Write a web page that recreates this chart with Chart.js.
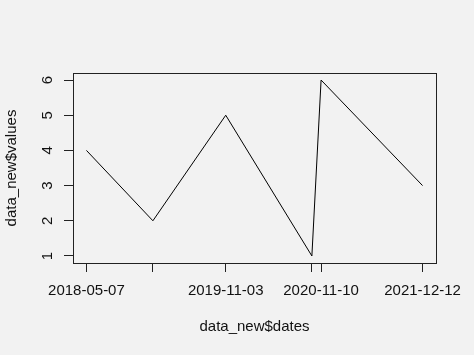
<!DOCTYPE html>
<html><head><meta charset="utf-8">
<script src="https://cdn.jsdelivr.net/npm/chart.js@4/dist/chart.umd.min.js"></script>
<style>html,body{margin:0;padding:0;background:#f2f2f2;}canvas{display:block;}</style>
</head><body>
<canvas id="c" width="474" height="355"></canvas>
<script>
const dates = ['2018-05-07','2019-01-22','2019-11-03','2020-10-05','2020-11-10','2021-12-12'];
const values = [4, 2, 5, 1, 6, 3];
const xTickLabels = ['2018-05-07','','2019-11-03','','2020-11-10','2021-12-12'];
const yTickValues = [1, 2, 3, 4, 5, 6];
const xTitle = 'data_new$dates';
const yTitle = 'data_new$values';

const DAY = 86400000;
const dayNum = d => Date.parse(d + 'T00:00:00Z') / DAY;
const xs = dates.map(dayNum);
const pts = xs.map((x, i) => ({x: x, y: values[i]}));
const xRange = xs[xs.length - 1] - xs[0];
const yMinV = Math.min(...values), yMaxV = Math.max(...values);
const yRange = yMaxV - yMinV;
const FAM = "'Liberation Sans', Arial, sans-serif";
const FONT = {family: FAM, size: 15};
const INK = '#111111';

const rPlugin = {
  id: 'rstyle',
  beforeDraw(chart) {
    const ctx = chart.ctx;
    ctx.save();
    ctx.fillStyle = '#f2f2f2';
    ctx.fillRect(0, 0, chart.width, chart.height);
    ctx.restore();
  },
  afterDraw(chart) {
    const ctx = chart.ctx, a = chart.chartArea, ys = chart.scales.y;
    ctx.save();
    ctx.strokeStyle = '#222';
    ctx.lineWidth = 1;
    ctx.strokeRect(Math.round(a.left) + 0.5, Math.round(a.top) + 0.5,
      Math.round(a.right - a.left), Math.round(a.bottom - a.top));
    ctx.font = '15px ' + FAM;
    ctx.fillStyle = INK;
    ctx.textAlign = 'center';
    ctx.textBaseline = 'middle';
    ys.ticks.forEach(t => {
      const p = ys.getPixelForValue(t.value);
      ctx.save();
      ctx.translate(a.left - 25, p);
      ctx.rotate(-Math.PI / 2);
      ctx.fillText(String(t.value), 0, 0);
      ctx.restore();
    });
    ctx.restore();
  }
};

new Chart(document.getElementById('c'), {
  type: 'line',
  data: {
    datasets: [{
      data: pts,
      borderColor: '#000',
      borderWidth: 1,
      pointRadius: 0,
      tension: 0,
      fill: false
    }]
  },
  options: {
    responsive: false,
    animation: false,
    events: [],
    layout: {padding: {left: 0, top: 73, right: 38, bottom: 0}},
    plugins: {legend: {display: false}, tooltip: {enabled: false}},
    scales: {
      x: {
        type: 'linear',
        position: 'bottom',
        min: xs[0] - 0.04 * xRange,
        max: xs[xs.length - 1] + 0.04 * xRange,
        afterBuildTicks: s => { s.ticks = xs.map(v => ({value: v})); },
        afterFit: s => { s.height = 92; },
        border: {display: false},
        grid: {drawOnChartArea: false, drawTicks: true, tickLength: 9, tickColor: '#222', lineWidth: 1},
        ticks: {
          autoSkip: false, maxRotation: 0, minRotation: 0, padding: 10,
          color: INK, font: FONT,
          callback: (v, i) => xTickLabels[i]
        },
        title: {display: true, text: xTitle, color: INK, font: FONT, padding: {top: 0, bottom: 19}}
      },
      y: {
        type: 'linear',
        position: 'left',
        min: yMinV - 0.04 * yRange,
        max: yMaxV + 0.04 * yRange,
        afterBuildTicks: s => { s.ticks = yTickValues.map(v => ({value: v})); },
        afterFit: s => { s.width = 73; },
        border: {display: false},
        grid: {drawOnChartArea: false, drawTicks: true, tickLength: 9, tickColor: '#222', lineWidth: 1},
        ticks: {display: false},
        title: {display: true, text: yTitle, color: INK, font: FONT, padding: {top: 3, bottom: 0}}
      }
    }
  },
  plugins: [rPlugin]
});
</script>
</body></html>
